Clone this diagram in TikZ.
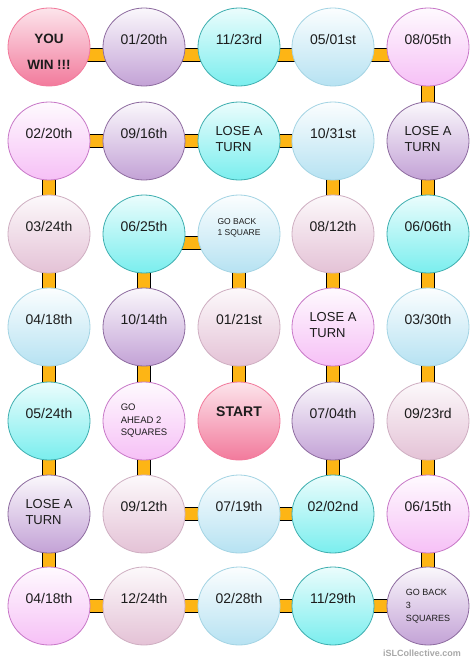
\documentclass[tikz,border=0pt]{standalone}
\usepackage{fontspec}
\setmainfont{Liberation Sans}
\usetikzlibrary{shapes.geometric,backgrounds}

\definecolor{railorange}{HTML}{FDB515}
\definecolor{inkgray}{HTML}{1C1C1C}
\definecolor{markgray}{HTML}{A8A8A8}
\definecolor{HTMLrose}{HTML}{F27A9C}
\definecolor{lilacbase}{HTML}{C3A2D6}
\definecolor{lilacrim}{HTML}{8E6CA0}
\definecolor{aquabase}{HTML}{7AEEEE}
\definecolor{aquarim}{HTML}{3FAFB0}
\definecolor{skybase}{HTML}{B6E2F2}
\definecolor{skyrim}{HTML}{A4D4E4}
\definecolor{orchidbase}{HTML}{F6C0F6}
\definecolor{orchidrim}{HTML}{C878C8}
\definecolor{mauvebase}{HTML}{E4C2D6}
\definecolor{mauverim}{HTML}{CFAFC2}

\tikzset{
	disc/.style={ellipse, minimum width=82pt, minimum height=78pt, inner sep=0pt, line width=0.8pt},
	rose/.style={disc, draw=HTMLrose, top color=white!80!HTMLrose, bottom color=HTMLrose},
	lilac/.style={disc, draw=lilacrim, top color=white!92!lilacbase, bottom color=lilacbase},
	aqua/.style={disc, draw=aquarim, top color=white!85!aquabase, bottom color=aquabase},
	sky/.style={disc, draw=skyrim, top color=white!95!skybase, bottom color=skybase},
	orchid/.style={disc, draw=orchidrim, top color=white!92!orchidbase, bottom color=orchidbase},
	mauve/.style={disc, draw=mauverim, top color=white!90!mauvebase, bottom color=mauvebase},
	date/.style={font=\fontsize{14}{16}\selectfont, text=inkgray, inner sep=0pt},
	turn/.style={font=\fontsize{13}{16}\selectfont, text=inkgray, align=left, inner sep=0pt},
	move/.style={font=\fontsize{9.5}{12.5}\selectfont, text=inkgray, align=left, inner sep=0pt},
	rail/.style={draw=black, line width=1pt, double=railorange, double distance=12pt},
}

\begin{document}
\begin{tikzpicture}[x=1pt,y=-1pt]
	\useasboundingbox (0,0) rectangle (474,670);
	% row 1
	\node[rose] (s11) at (49,47) {};
	\node[lilac] (s12) at (144,47) {};
	\node[aqua] (s13) at (239,47) {};
	\node[sky] (s14) at (333,47) {};
	\node[orchid] (s15) at (428,47) {};
	% row 2
	\node[orchid] (s21) at (49,141) {};
	\node[lilac] (s22) at (144,141) {};
	\node[aqua] (s23) at (239,141) {};
	\node[sky] (s24) at (333,141) {};
	\node[lilac] (s25) at (428,141) {};
	% row 3
	\node[mauve] (s31) at (49,234) {};
	\node[aqua] (s32) at (144,234) {};
	\node[sky] (s33) at (239,234) {};
	\node[mauve] (s34) at (333,234) {};
	\node[aqua] (s35) at (428,234) {};
	% row 4
	\node[sky] (s41) at (49,327) {};
	\node[lilac] (s42) at (144,327) {};
	\node[mauve] (s43) at (239,327) {};
	\node[orchid] (s44) at (333,327) {};
	\node[sky] (s45) at (428,327) {};
	% row 5
	\node[aqua] (s51) at (49,421) {};
	\node[orchid] (s52) at (144,421) {};
	\node[rose] (s53) at (239,421) {};
	\node[lilac] (s54) at (333,421) {};
	\node[mauve] (s55) at (428,421) {};
	% row 6
	\node[lilac] (s61) at (49,514) {};
	\node[mauve] (s62) at (144,514) {};
	\node[sky] (s63) at (239,514) {};
	\node[aqua] (s64) at (333,514) {};
	\node[orchid] (s65) at (428,514) {};
	% row 7
	\node[orchid] (s71) at (49,606) {};
	\node[mauve] (s72) at (144,606) {};
	\node[sky] (s73) at (239,606) {};
	\node[aqua] (s74) at (333,606) {};
	\node[lilac] (s75) at (428,606) {};

	% texts
	\node[font=\bfseries\fontsize{13.5}{26}\selectfont, text=inkgray, align=center, inner sep=0pt] (t11) at ([yshift=-5pt]s11.center) {YOU\\WIN !!!};
	\node[date] (t12) at ([yshift=8pt]s12.center) {01/20th};
	\node[date] (t13) at ([yshift=8pt]s13.center) {11/23rd};
	\node[date] (t14) at ([yshift=8pt]s14.center) {05/01st};
	\node[date] (t15) at ([yshift=8pt]s15.center) {08/05th};
	\node[date] (t21) at ([yshift=8pt]s21.center) {02/20th};
	\node[date] (t22) at ([yshift=8pt]s22.center) {09/16th};
	\node[turn] (t23) at ([yshift=2pt]s23.center) {LOSE A\\TURN};
	\node[date] (t24) at ([yshift=8pt]s24.center) {10/31st};
	\node[turn] (t25) at ([yshift=2pt]s25.center) {LOSE A\\TURN};
	\node[date] (t31) at ([yshift=8pt]s31.center) {03/24th};
	\node[date] (t32) at ([yshift=8pt]s32.center) {06/25th};
	\node[move, font=\fontsize{8.5}{11}\selectfont] (t33) at ([yshift=6.5pt]s33.center) {GO BACK\\1 SQUARE};
	\node[date] (t34) at ([yshift=8pt]s34.center) {08/12th};
	\node[date] (t35) at ([yshift=8pt]s35.center) {06/06th};
	\node[date] (t41) at ([yshift=8pt]s41.center) {04/18th};
	\node[date] (t42) at ([yshift=8pt]s42.center) {10/14th};
	\node[date] (t43) at ([yshift=8pt]s43.center) {01/21st};
	\node[turn] (t44) at ([yshift=2pt]s44.center) {LOSE A\\TURN};
	\node[date] (t45) at ([yshift=8pt]s45.center) {03/30th};
	\node[date] (t51) at ([yshift=8pt]s51.center) {05/24th};
	\node[move] (t52) at (s52.center) {GO\\AHEAD 2\\SQUARES};
	\node[font=\bfseries\fontsize{14}{16}\selectfont, text=inkgray, inner sep=0pt] (t53) at ([yshift=9pt]s53.center) {START};
	\node[date] (t54) at ([yshift=8pt]s54.center) {07/04th};
	\node[date] (t55) at ([yshift=8pt]s55.center) {09/23rd};
	\node[turn] (t61) at ([yshift=2pt]s61.center) {LOSE A\\TURN};
	\node[date] (t62) at ([yshift=8pt]s62.center) {09/12th};
	\node[date] (t63) at ([yshift=8pt]s63.center) {07/19th};
	\node[date] (t64) at ([yshift=8pt]s64.center) {02/02nd};
	\node[date] (t65) at ([yshift=8pt]s65.center) {06/15th};
	\node[date] (t71) at ([yshift=8pt]s71.center) {04/18th};
	\node[date] (t72) at ([yshift=8pt]s72.center) {12/24th};
	\node[date] (t73) at ([yshift=8pt]s73.center) {02/28th};
	\node[date] (t74) at ([yshift=8pt]s74.center) {11/29th};
	\node[move, font=\fontsize{9}{13}\selectfont] (t75) at (s75.center) {GO BACK\\3\\SQUARES};

	\node[font=\bfseries\fontsize{9}{11}\selectfont, text=markgray, inner sep=0pt] (mark) at (422,653) {iSLCollective.com};

	% rails between squares
	\begin{scope}[on background layer]
		\fill[white] (0,0) rectangle (474,670);
		\draw[rail] ([yshift=-8pt]s11.center) -- ([yshift=-8pt]s12.center);
		\draw[rail] ([yshift=-8pt]s12.center) -- ([yshift=-8pt]s13.center);
		\draw[rail] ([yshift=-8pt]s13.center) -- ([yshift=-8pt]s14.center);
		\draw[rail] ([yshift=-8pt]s14.center) -- ([yshift=-8pt]s15.center);
		\draw[rail] (s15.center) -- (s25.center);
		\draw[rail] (s21.center) -- (s22.center);
		\draw[rail] (s22.center) -- (s23.center);
		\draw[rail] (s23.center) -- (s24.center);
		\draw[rail] (s21.center) -- (s31.center);
		\draw[rail] (s24.center) -- (s34.center);
		\draw[rail] (s25.center) -- (s35.center);
		\draw[rail] ([yshift=-9pt]s32.center) -- ([yshift=-9pt]s33.center);
		\draw[rail] (s31.center) -- (s41.center);
		\draw[rail] (s32.center) -- (s42.center);
		\draw[rail] (s33.center) -- (s43.center);
		\draw[rail] (s34.center) -- (s44.center);
		\draw[rail] (s35.center) -- (s45.center);
		\draw[rail] (s41.center) -- (s51.center);
		\draw[rail] (s42.center) -- (s52.center);
		\draw[rail] (s43.center) -- (s53.center);
		\draw[rail] (s44.center) -- (s54.center);
		\draw[rail] (s45.center) -- (s55.center);
		\draw[rail] (s51.center) -- (s61.center);
		\draw[rail] (s52.center) -- (s62.center);
		\draw[rail] (s54.center) -- (s64.center);
		\draw[rail] (s55.center) -- (s65.center);
		\draw[rail] (s62.center) -- (s63.center);
		\draw[rail] (s63.center) -- (s64.center);
		\draw[rail] (s61.center) -- (s71.center);
		\draw[rail] (s65.center) -- (s75.center);
		\draw[rail] (s71.center) -- (s72.center);
		\draw[rail] (s72.center) -- (s73.center);
		\draw[rail] (s73.center) -- (s74.center);
		\draw[rail] (s74.center) -- (s75.center);
	\end{scope}
\end{tikzpicture}
\end{document}
